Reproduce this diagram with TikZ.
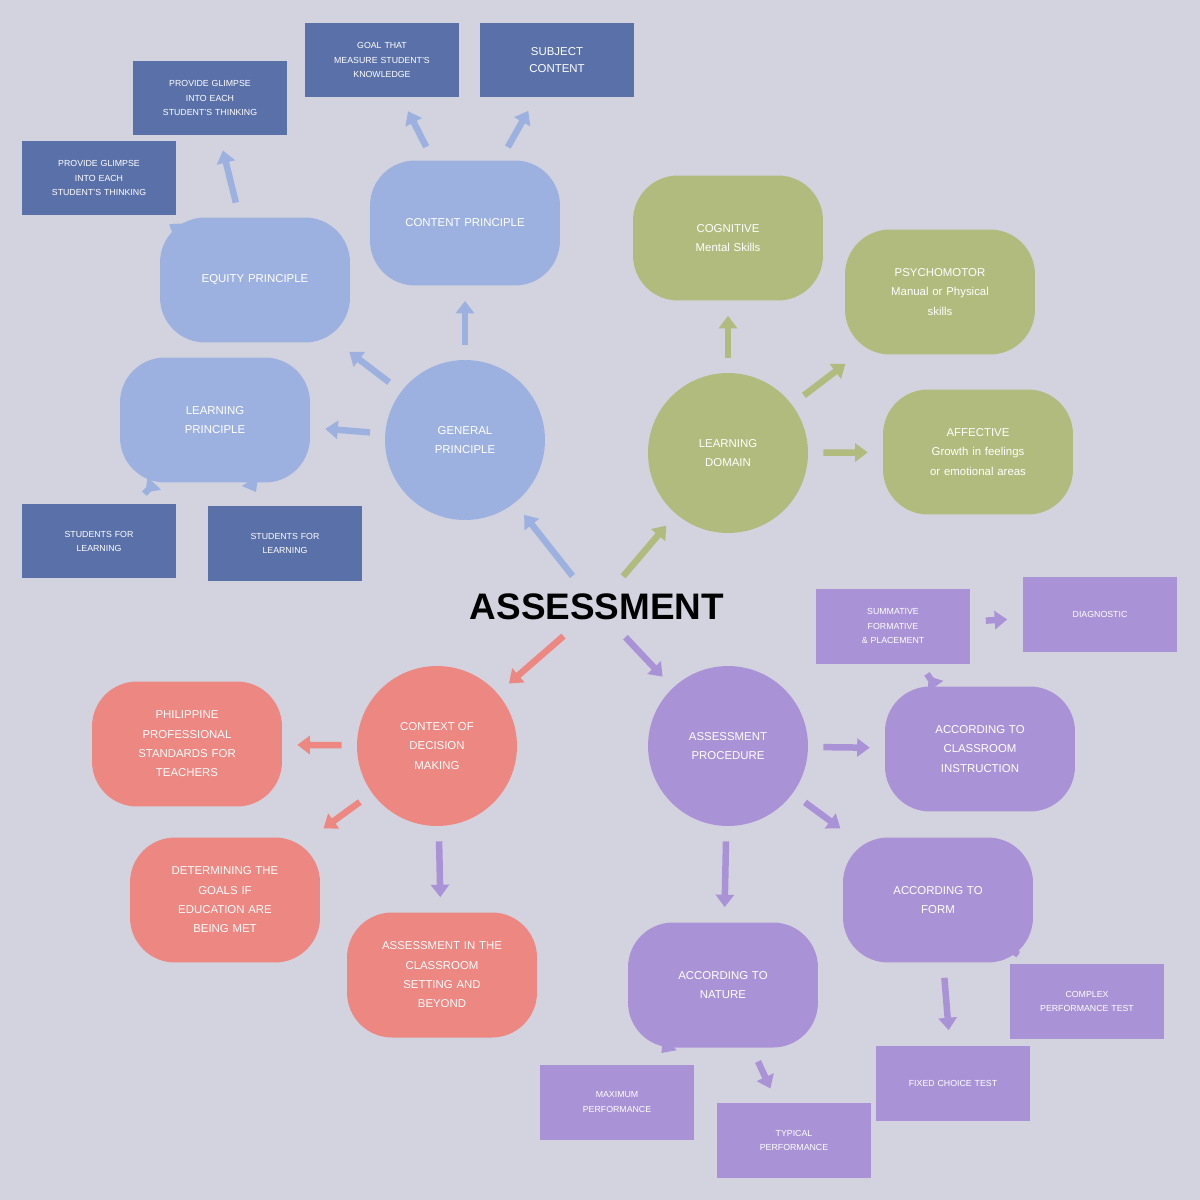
\documentclass[tikz,border=0pt]{standalone}
\usepackage{fontspec}
\setmainfont{Liberation Sans}
\usetikzlibrary{arrows.meta}
\definecolor{bg}{HTML}{D3D3DF}
\definecolor{bl}{HTML}{9DB1E0}
\definecolor{dbl}{HTML}{5A70A8}
\definecolor{gr}{HTML}{B0BB7D}
\definecolor{rd}{HTML}{EC8782}
\definecolor{pu}{HTML}{A993D6}
\tikzset{
 blob/.style={rounded corners=0.9cm,minimum width=3.8cm,minimum height=2.5cm,text width=3.4cm,align=center,text=white,font=\fontsize{6.5}{11}\selectfont,inner sep=0pt},
 circ/.style={circle,minimum size=3.2cm,align=center,text=white,font=\fontsize{6.5}{11}\selectfont,inner sep=0pt},
 box/.style={minimum width=3.1cm,minimum height=1.5cm,text width=2.9cm,align=center,text=white,font=\fontsize{5}{8}\selectfont,inner sep=0pt},
 arr/.style={line width=0.13cm,-{Triangle[length=0.25cm,width=0.36cm]},shorten <=0.3cm,shorten >=0.3cm}
}
\begin{document}
\begin{tikzpicture}[x=0.02cm,y=-0.02cm]
\fill[bg] (0,0) rectangle (1200,1200);
\useasboundingbox (0,0) rectangle (1200,1200);
% blue
\node[circ,fill=bl] (gp) at (465,440) {GENERAL\\PRINCIPLE};
\node[blob,fill=bl] (cp) at (465,223) {CONTENT PRINCIPLE};
\node[blob,fill=bl] (ep) at (255,280) {EQUITY PRINCIPLE};
\node[blob,fill=bl] (lp) at (215,420) {LEARNING\\PRINCIPLE};
\node[box,fill=dbl] (gm) at (382,60) {GOAL THAT\\MEASURE STUDENT'S\\KNOWLEDGE};
\node[box,fill=dbl,font=\fontsize{6.5}{10}\selectfont] (sc) at (557,60) {SUBJECT\\CONTENT};
\node[box,fill=dbl] (g1) at (210,98) {PROVIDE GLIMPSE\\INTO EACH\\STUDENT'S THINKING};
\node[box,fill=dbl] (g2) at (99,178) {PROVIDE GLIMPSE\\INTO EACH\\STUDENT'S THINKING};
\node[box,fill=dbl] (s1) at (99,541) {STUDENTS FOR\\LEARNING};
\node[box,fill=dbl] (s2) at (285,543) {STUDENTS FOR\\LEARNING};
% green
\node[circ,fill=gr] (ld) at (728,453) {LEARNING\\DOMAIN};
\node[blob,fill=gr] (cg) at (728,238) {COGNITIVE\\Mental Skills};
\node[blob,fill=gr] (ps) at (940,292) {PSYCHOMOTOR\\Manual or Physical\\skills};
\node[blob,fill=gr] (af) at (978,452) {AFFECTIVE\\Growth in feelings\\or emotional areas};
% red
\node[circ,fill=rd] (cx) at (437,746) {CONTEXT OF\\DECISION\\MAKING};
\node[blob,fill=rd] (ph) at (187,744) {PHILIPPINE\\PROFESSIONAL\\STANDARDS FOR\\TEACHERS};
\node[blob,fill=rd] (dg) at (225,900) {DETERMINING THE\\GOALS IF\\EDUCATION ARE\\BEING MET};
\node[blob,fill=rd] (ac) at (442,975) {ASSESSMENT IN THE\\CLASSROOM\\SETTING AND\\BEYOND};
% purple
\node[circ,fill=pu] (ap) at (728,746) {ASSESSMENT\\PROCEDURE};
\node[blob,fill=pu] (acl) at (980,749) {ACCORDING TO\\CLASSROOM\\INSTRUCTION};
\node[box,fill=pu] (sm) at (893,626) {SUMMATIVE\\FORMATIVE\\\& PLACEMENT};
\node[box,fill=pu] (di) at (1100,614) {DIAGNOSTIC};
\node[blob,fill=pu] (af2) at (938,900) {ACCORDING TO\\FORM};
\node[blob,fill=pu] (an) at (723,985) {ACCORDING TO\\NATURE};
\node[box,fill=pu] (cpt) at (1087,1001) {COMPLEX\\PERFORMANCE TEST};
\node[box,fill=pu] (fc) at (953,1083) {FIXED CHOICE TEST};
\node[box,fill=pu] (mx) at (617,1102) {MAXIMUM\\PERFORMANCE};
\node[box,fill=pu] (ty) at (794,1140) {TYPICAL\\PERFORMANCE};
% center
\node[font=\bfseries\fontsize{21}{24}\selectfont] (as) at (597,607) {ASSESSMENT};
% arrows
\draw[arr,bl] (as) -- (gp);
\draw[arr,gr] (as) -- (ld);
\draw[arr,rd] (as) -- (cx);
\draw[arr,pu] (as) -- (ap);
\draw[arr,bl] (gp) -- (cp);
\draw[arr,bl] (gp) -- (ep);
\draw[arr,bl] (gp) -- (lp);
\draw[arr,bl] (cp) -- (gm);
\draw[arr,bl] (cp) -- (sc);
\draw[arr,bl] (ep) -- (g1);
\draw[arr,bl] (ep) -- (g2);
\draw[arr,bl] (lp) -- (s1);
\draw[arr,bl] (lp) -- (s2);
\draw[arr,gr] (ld) -- (cg);
\draw[arr,gr] (ld) -- (ps);
\draw[arr,gr] (ld) -- (af);
\draw[arr,rd] (cx) -- (ph);
\draw[arr,rd] (cx) -- (dg);
\draw[arr,pu] (cx) -- (ac);
\draw[arr,pu] (ap) -- (acl);
\draw[arr,pu] (ap) -- (af2);
\draw[arr,pu] (ap) -- (an);
\draw[arr,pu] (acl) -- (sm);
\draw[arr,pu] (sm) -- (di);
\draw[arr,pu] (af2) -- (cpt);
\draw[arr,pu] (af2) -- (fc);
\draw[arr,pu] (an) -- (mx);
\draw[arr,pu] (an) -- (ty);
\end{tikzpicture}
\end{document}
